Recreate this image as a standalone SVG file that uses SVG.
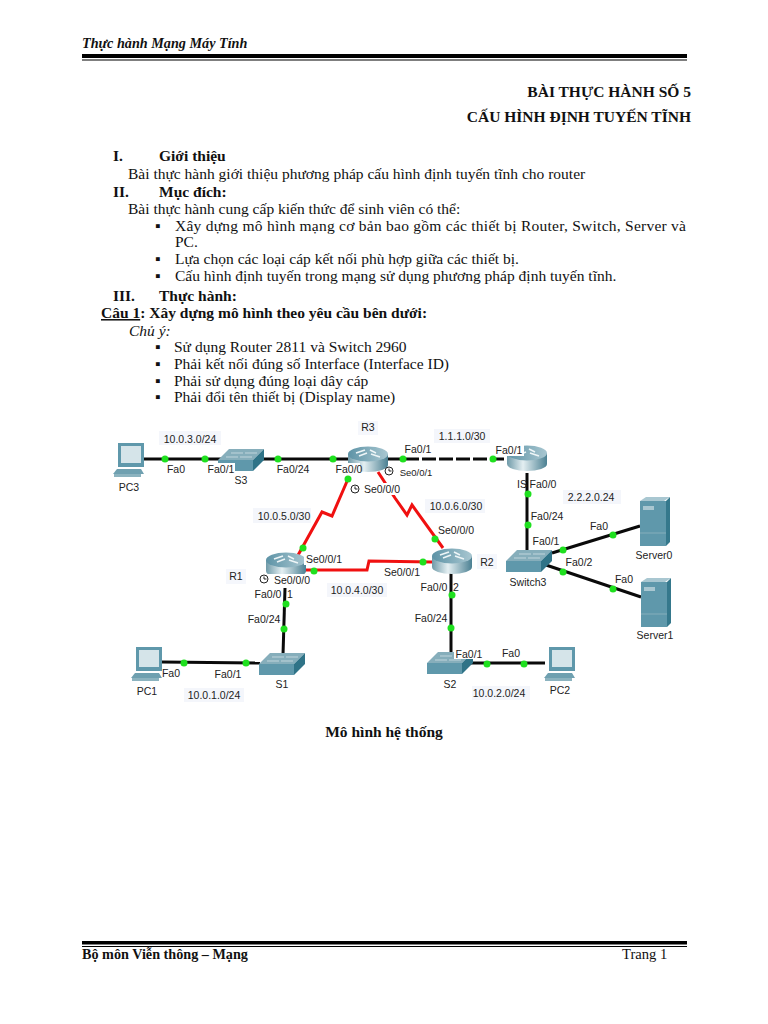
<svg xmlns="http://www.w3.org/2000/svg" width="768" height="1024" viewBox="0 0 768 1024">
<style>
text{font-family:"Liberation Serif","Times New Roman",serif;font-size:15.5px;fill:#111}
.b{font-weight:bold}
.n text,.l text{font-family:"Liberation Sans",Arial,sans-serif;font-size:10.5px;fill:#222}
.blk{fill:none;stroke:#0a0a0a;stroke-width:3}
.red{fill:none;stroke:#f01010;stroke-width:3}
.dot{fill:#1fe01f}
</style>
<defs>
<linearGradient id="cyl" x1="0" x2="1" y1="0" y2="0"><stop offset="0" stop-color="#6f9aa8"/><stop offset=".4" stop-color="#e4eff2"/><stop offset="1" stop-color="#4b8092"/></linearGradient>
<linearGradient id="top" x1="0" x2="1" y1="0" y2="0"><stop offset="0" stop-color="#5d93a6"/><stop offset="1" stop-color="#a9c7d1"/></linearGradient>
<g id="router">
<path d="M-20 -5V6A20 7 0 0 0 20 6V-5Z" fill="url(#cyl)"/>
<ellipse cx="0" cy="-5" rx="20" ry="7.500" fill="url(#top)"/>
<path d="M-12 -6L-3 -9M-9 -3L-1 -6M3 -5L12 -2M2 -9L8 -6" stroke="#eef5f7" stroke-width="1.600" fill="none"/>
</g>
<g id="switch">
<polygon points="0,11 11,0 46,0 35,11" fill="#86aebb"/>
<polygon points="0,11 35,11 35,22 0,22" fill="#5f98ab"/>
<polygon points="35,11 46,0 46,11 35,22" fill="#2f7387"/>
<path d="M13 4H25M27 4H39M8 8H20M22 8H34" stroke="#cfe0e5" stroke-width=".8"/>
</g>
<g id="pc">
<polygon points="5,0 31,0 31,24 5,24" fill="#5f98ab"/>
<rect x="8" y="3" width="20" height="17" fill="#d5e4e9"/>
<polygon points="4,26 28,26 31,31 0,31" fill="#6fa0b0"/>
<rect x="1" y="31" width="27" height="3" fill="#8cb3bf"/>
</g>
<g id="server">
<polygon points="0,2 24,2 30,-2 6,-2" fill="#a9c7d1"/>
<rect x="0" y="2" width="26" height="45" fill="#5f98ab"/>
<polygon points="26,2 30,-2 30,43 26,47" fill="#35788c"/>
<rect x="3" y="7" width="11" height="4" fill="#a9c7d1"/>
<path d="M0 34H26" stroke="#86aebb"/>
</g>
</defs>

<rect width="768" height="1024" fill="#fff"/>

<g id="page-text">
<text x="82" y="48" class="b" style="font-style:italic;font-size:14.200px">Thực hành Mạng Máy Tính</text>
<rect x="82" y="54" width="605" height="4" fill="#000"/>
<rect x="82" y="59.500" width="605" height="1" fill="#000"/>
<text x="691" y="97" class="b" text-anchor="end">BÀI THỰC HÀNH SỐ 5</text>
<text x="691" y="122" class="b" text-anchor="end">CẤU HÌNH ĐỊNH TUYẾN TĨNH</text>
<text x="113" y="161" class="b">I.</text><text x="159" y="161" class="b">Giới thiệu</text>
<text x="128" y="179">Bài thực hành giới thiệu phương pháp cấu hình định tuyến tĩnh cho router</text>
<text x="113" y="197" class="b">II.</text><text x="159" y="197" class="b">Mục đích:</text>
<text x="128" y="214">Bài thực hành cung cấp kiến thức để sinh viên có thể:</text>
<text x="155" y="231">▪</text><text x="175" y="231" textLength="511">Xây dựng mô hình mạng cơ bản bao gồm các thiết bị Router, Switch, Server và</text>
<text x="175" y="247">PC.</text>
<text x="155" y="264">▪</text><text x="175" y="264">Lựa chọn các loại cáp kết nối phù hợp giữa các thiết bị.</text>
<text x="155" y="281">▪</text><text x="175" y="281">Cấu hình định tuyến trong mạng sử dụng phương pháp định tuyến tĩnh.</text>
<text x="113" y="301" class="b">III.</text><text x="159" y="301" class="b">Thực hành:</text>
<text x="101" y="318" class="b"><tspan text-decoration="underline">Câu 1</tspan>: Xây dựng mô hình theo yêu cầu bên dưới:</text>
<text x="129" y="336" style="font-style:italic">Chủ ý:</text>
<text x="155" y="352">▪</text><text x="174" y="352">Sử dụng Router 2811 và Switch 2960</text>
<text x="155" y="369">▪</text><text x="174" y="369">Phải kết nối đúng số Interface (Interface ID)</text>
<text x="155" y="386">▪</text><text x="174" y="386">Phải sử dụng đúng loại dây cáp</text>
<text x="155" y="402">▪</text><text x="174" y="402">Phải đổi tên thiết bị (Display name)</text>
<text x="384" y="737" class="b" text-anchor="middle">Mô hình hệ thống</text>
<rect x="82" y="941" width="605" height="3.500" fill="#000"/>
<rect x="82" y="946" width="605" height="1" fill="#000"/>
<text x="82" y="959" class="b" style="font-size:14.200px">Bộ môn Viễn thông – Mạng</text>
<text x="622" y="959" style="font-size:14.600px">Trang 1</text>
</g>

<g id="connectors">
<path class="blk" d="M143 459H222"/>
<path class="blk" d="M260 459H350"/>
<path class="blk" d="M388 459H510" stroke-dasharray="14 3"/>
<path class="blk" d="M527 473V552"/>
<path class="blk" d="M552 553L640 526"/>
<path class="blk" d="M546 565L641 597"/>
<path class="blk" d="M285 588L283 655"/>
<path class="blk" d="M162 662L260 663"/>
<path class="blk" d="M451 573V654"/>
<path class="blk" d="M465 663H545"/>
<path class="red" d="M297 557L322 512L332 516L348 479"/>
<path class="red" d="M378 472L395 498L407 515L412 505L443 548"/>
<path class="red" d="M305 570H367L369 561L432 562"/>
</g>

<g class="n" id="PC3"><use href="#pc" x="113" y="443"/><text x="129" y="491" text-anchor="middle">PC3</text></g>
<g class="n" id="S3"><use href="#switch" x="218" y="449"/><text x="241" y="484" text-anchor="middle">S3</text></g>
<g class="n" id="R3"><use href="#router" x="368" y="459"/><rect x="358" y="421" width="20" height="14" fill="#f5f7fc"/><text x="368" y="431" text-anchor="middle">R3</text></g>
<g class="n" id="ISP"><use href="#router" x="527" y="458"/><text x="522" y="488" text-anchor="middle">IS</text></g>
<g class="n" id="Switch3"><use href="#switch" x="506" y="550"/><text x="528" y="586" text-anchor="middle">Switch3</text></g>
<g class="n" id="Server0"><use href="#server" x="640" y="499"/><text x="654" y="559" text-anchor="middle">Server0</text></g>
<g class="n" id="Server1"><use href="#server" x="641" y="580"/><text x="655" y="639" text-anchor="middle">Server1</text></g>
<g class="n" id="R2"><use href="#router" x="452" y="561"/><rect x="477" y="554" width="20" height="15" fill="#f5f7fc"/><text x="487" y="566" text-anchor="middle">R2</text></g>
<g class="n" id="R1"><use href="#router" x="286" y="565"/><rect x="226" y="569" width="20" height="15" fill="#f5f7fc"/><text x="236" y="580" text-anchor="middle">R1</text></g>
<g class="n" id="S1"><use href="#switch" x="259" y="653"/><text x="282" y="688" text-anchor="middle">S1</text></g>
<g class="n" id="PC1"><use href="#pc" x="131" y="647"/><text x="147" y="695" text-anchor="middle">PC1</text></g>
<g class="n" id="S2"><use href="#switch" x="427" y="652"/><text x="450" y="688" text-anchor="middle">S2</text></g>
<g class="n" id="PC2"><use href="#pc" x="544" y="647"/><text x="560" y="694" text-anchor="middle">PC2</text></g>

<g class="l" id="labels">
<g fill="#f4f6fb">
<rect x="159" y="431" width="62" height="14"/><rect x="253" y="508" width="58" height="15"/><rect x="434" y="429" width="56" height="14"/><rect x="425" y="499" width="60" height="14"/><rect x="563" y="490" width="58" height="14"/><rect x="327" y="583" width="60" height="14"/><rect x="184" y="688" width="60" height="14"/><rect x="472" y="686" width="58" height="14"/>
</g>
<g fill="#fff">
<rect x="208" y="463" width="27" height="12"/><rect x="333" y="463" width="27" height="12"/><rect x="404" y="443" width="28" height="12"/><rect x="494" y="444" width="30" height="12"/><rect x="531" y="478" width="25" height="12"/><rect x="350" y="483" width="50" height="12"/><rect x="396" y="466" width="38" height="12"/><rect x="258" y="574" width="52" height="12"/><rect x="304" y="553" width="38" height="12"/><rect x="440" y="524" width="34" height="12"/><rect x="384" y="566" width="38" height="12"/><rect x="420" y="581" width="26" height="12"/><rect x="454" y="647" width="30" height="12"/><rect x="253" y="588" width="30" height="12"/>
</g>
<text x="190" y="443" text-anchor="middle">10.0.3.0/24</text>
<text x="176" y="473" text-anchor="middle">Fa0</text>
<text x="221" y="473" text-anchor="middle">Fa0/1</text>
<text x="293" y="473" text-anchor="middle">Fa0/24</text>
<text x="349" y="473" text-anchor="middle">Fa0/0</text>
<text x="418" y="453" text-anchor="middle">Fa0/1</text>
<text x="462" y="440" text-anchor="middle">1.1.1.0/30</text>
<text x="509" y="454" text-anchor="middle">Fa0/1</text>
<text x="416" y="476" text-anchor="middle" style="font-size:9.500px">Se0/0/1</text>
<text x="382" y="493" text-anchor="middle">Se0/0/0</text>
<text x="284" y="520" text-anchor="middle">10.0.5.0/30</text>
<text x="456" y="510" text-anchor="middle">10.0.6.0/30</text>
<text x="456" y="534" text-anchor="middle">Se0/0/0</text>
<text x="543" y="488" text-anchor="middle">Fa0/0</text>
<text x="547" y="520" text-anchor="middle">Fa0/24</text>
<text x="546" y="545" text-anchor="middle">Fa0/1</text>
<text x="591" y="501" text-anchor="middle">2.2.2.0.24</text>
<text x="599" y="530" text-anchor="middle">Fa0</text>
<text x="579" y="566" text-anchor="middle">Fa0/2</text>
<text x="624" y="583" text-anchor="middle">Fa0</text>
<text x="324" y="563" text-anchor="middle">Se0/0/1</text>
<text x="402" y="576" text-anchor="middle">Se0/0/1</text>
<text x="292" y="584" text-anchor="middle">Se0/0/0</text>
<text x="357" y="594" text-anchor="middle">10.0.4.0/30</text>
<text x="268" y="598" text-anchor="middle">Fa0/0</text>
<text x="290" y="598" text-anchor="middle">1</text>
<text x="264" y="623" text-anchor="middle">Fa0/24</text>
<text x="434" y="591" text-anchor="middle">Fa0/0</text>
<text x="456" y="591" text-anchor="middle">2</text>
<text x="431" y="622" text-anchor="middle">Fa0/24</text>
<text x="171" y="677" text-anchor="middle">Fa0</text>
<text x="228" y="678" text-anchor="middle">Fa0/1</text>
<text x="214" y="699" text-anchor="middle">10.0.1.0/24</text>
<text x="469" y="658" text-anchor="middle">Fa0/1</text>
<text x="511" y="657" text-anchor="middle">Fa0</text>
<text x="499" y="697" text-anchor="middle">10.0.2.0/24</text>
<g fill="none" stroke="#222" stroke-width="1">
<circle cx="264" cy="579" r="4"/><path d="M264 576.500V579H266.500"/>
<circle cx="355" cy="489" r="4"/><path d="M355 486.500V489H357.500"/>
<circle cx="389" cy="471" r="4"/><path d="M389 468.500V471H391.500"/>
</g>
</g>

<g id="link-lights" class="dot">
<circle cx="165" cy="459" r="3.500"/><circle cx="205" cy="459" r="3.500"/><circle cx="278" cy="459" r="3.500"/><circle cx="333" cy="459" r="3.500"/>
<circle cx="403" cy="459" r="3.500"/><circle cx="493" cy="459" r="3.500"/><circle cx="348" cy="479" r="3.500"/><circle cx="303" cy="548" r="3.500"/>
<circle cx="435" cy="539" r="3.500"/><circle cx="314" cy="571" r="3.500"/><circle cx="423" cy="562" r="3.500"/>
<circle cx="528" cy="494" r="3.500"/><circle cx="528" cy="525" r="3.500"/><circle cx="563" cy="550" r="3.500"/><circle cx="613" cy="535" r="3.500"/><circle cx="563" cy="572" r="3.500"/><circle cx="613" cy="589" r="3.500"/>
<circle cx="286" cy="604" r="3.500"/><circle cx="284" cy="629" r="3.500"/><circle cx="184" cy="663" r="3.500"/><circle cx="246" cy="663" r="3.500"/>
<circle cx="452" cy="595" r="3.500"/><circle cx="451" cy="628" r="3.500"/><circle cx="487" cy="664" r="3.500"/><circle cx="524" cy="664" r="3.500"/>
</g>
</svg>
